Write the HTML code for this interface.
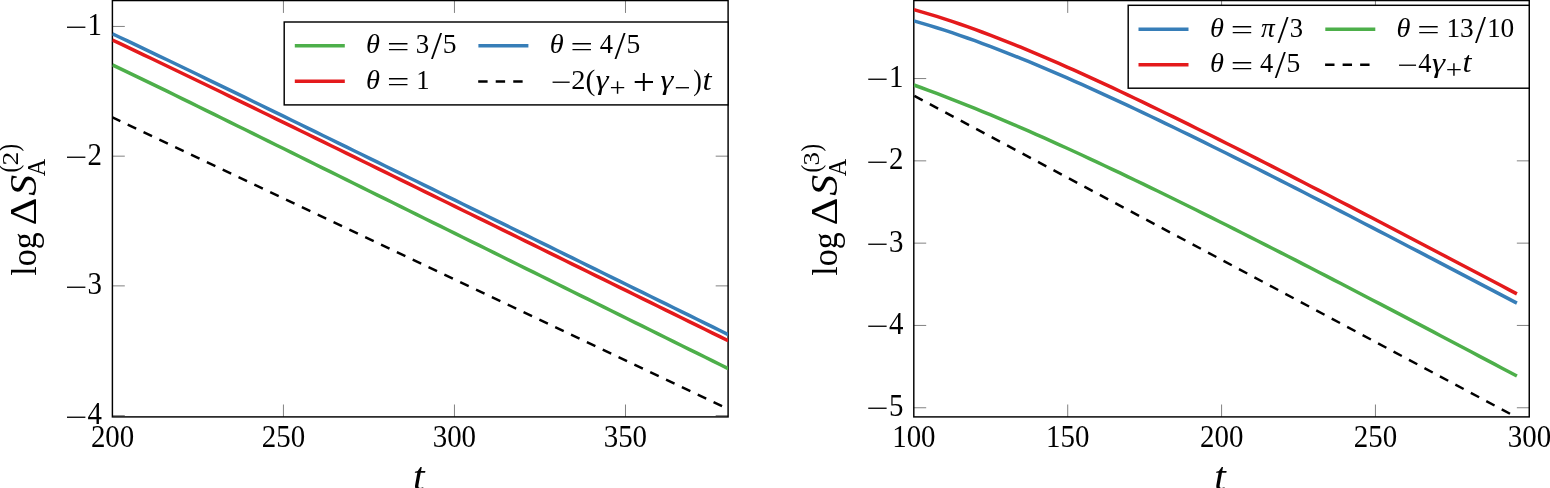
<!DOCTYPE html>
<html lang="en">
<head>
<meta charset="utf-8">
<title>log entanglement asymmetry decay</title>
<style>
html,body{margin:0;padding:0;background:#fff;}
body{width:1550px;height:488px;overflow:hidden;}
svg{display:block;}
svg text{font-family:"Liberation Serif",serif;fill:#000;}
</style>
</head>
<body>
<svg width="1550" height="488" viewBox="0 0 1550 488">
<rect x="0" y="0" width="1550" height="488" fill="#fff"/>
<line x1="283.43" y1="416.9" x2="283.43" y2="404.5" stroke="#2e2e2e" stroke-width="0.6"/>
<line x1="283.43" y1="0.55" x2="283.43" y2="12.95" stroke="#2e2e2e" stroke-width="0.6"/>
<line x1="454.46" y1="416.9" x2="454.46" y2="404.5" stroke="#2e2e2e" stroke-width="0.6"/>
<line x1="454.46" y1="0.55" x2="454.46" y2="12.95" stroke="#2e2e2e" stroke-width="0.6"/>
<line x1="625.49" y1="416.9" x2="625.49" y2="404.5" stroke="#2e2e2e" stroke-width="0.6"/>
<line x1="625.49" y1="0.55" x2="625.49" y2="12.95" stroke="#2e2e2e" stroke-width="0.6"/>
<line x1="112.4" y1="26.45" x2="124.8" y2="26.45" stroke="#2e2e2e" stroke-width="0.6"/>
<line x1="728.1" y1="26.45" x2="715.7" y2="26.45" stroke="#2e2e2e" stroke-width="0.6"/>
<line x1="112.4" y1="156.17" x2="124.8" y2="156.17" stroke="#2e2e2e" stroke-width="0.6"/>
<line x1="728.1" y1="156.17" x2="715.7" y2="156.17" stroke="#2e2e2e" stroke-width="0.6"/>
<line x1="112.4" y1="285.88" x2="124.8" y2="285.88" stroke="#2e2e2e" stroke-width="0.6"/>
<line x1="728.1" y1="285.88" x2="715.7" y2="285.88" stroke="#2e2e2e" stroke-width="0.6"/>
<line x1="112.4" y1="415.6" x2="124.8" y2="415.6" stroke="#2e2e2e" stroke-width="0.6"/>
<line x1="728.1" y1="415.6" x2="715.7" y2="415.6" stroke="#2e2e2e" stroke-width="0.6"/>
<clipPath id="c1"><rect x="112.4" y="0.55" width="615.7" height="416.35"/></clipPath>
<rect x="112.4" y="0.55" width="615.7" height="416.35" fill="none" stroke="#000" stroke-width="1.45"/>
<g clip-path="url(#c1)">
<path d="M112.4 64.9 L120.19 68.59 L127.99 72.31 L135.78 76.05 L143.58 79.82 L151.37 83.6 L159.17 87.39 L166.96 91.19 L174.76 95.01 L182.55 98.83 L190.35 102.65 L198.14 106.49 L205.94 110.32 L213.73 114.16 L221.53 118 L229.32 121.85 L237.12 125.7 L244.91 129.54 L252.71 133.39 L260.5 137.25 L268.3 141.1 L276.09 144.95 L283.89 148.8 L291.68 152.66 L299.48 156.51 L307.27 160.37 L315.07 164.22 L322.86 168.08 L330.66 171.93 L338.45 175.79 L346.25 179.64 L354.04 183.5 L361.84 187.35 L369.63 191.21 L377.43 195.06 L385.22 198.92 L393.02 202.78 L400.81 206.63 L408.61 210.49 L416.4 214.34 L424.2 218.2 L431.99 222.06 L439.79 225.91 L447.58 229.77 L455.38 233.62 L463.17 237.48 L470.97 241.34 L478.76 245.19 L486.56 249.05 L494.35 252.91 L502.15 256.76 L509.94 260.62 L517.74 264.47 L525.53 268.33 L533.33 272.19 L541.12 276.04 L548.92 279.9 L556.71 283.75 L564.51 287.61 L572.3 291.47 L580.1 295.32 L587.89 299.18 L595.69 303.04 L603.48 306.89 L611.28 310.75 L619.07 314.6 L626.87 318.46 L634.66 322.32 L642.46 326.17 L650.25 330.03 L658.05 333.88 L665.84 337.74 L673.64 341.6 L681.43 345.45 L689.23 349.31 L697.02 353.17 L704.82 357.02 L712.61 360.88 L720.41 364.73 L728.2 368.59" fill="none" stroke="#4daf4a" stroke-width="3.5"/>
<path d="M112.4 40.01 L120.19 43.69 L127.99 47.38 L135.78 51.09 L143.58 54.8 L151.37 58.52 L159.17 62.25 L166.96 65.98 L174.76 69.72 L182.55 73.47 L190.35 77.23 L198.14 80.99 L205.94 84.75 L213.73 88.52 L221.53 92.3 L229.32 96.07 L237.12 99.86 L244.91 103.64 L252.71 107.43 L260.5 111.22 L268.3 115.02 L276.09 118.82 L283.89 122.62 L291.68 126.42 L299.48 130.23 L307.27 134.03 L315.07 137.84 L322.86 141.65 L330.66 145.47 L338.45 149.28 L346.25 153.1 L354.04 156.91 L361.84 160.73 L369.63 164.55 L377.43 168.37 L385.22 172.19 L393.02 176.02 L400.81 179.84 L408.61 183.66 L416.4 187.49 L424.2 191.31 L431.99 195.14 L439.79 198.97 L447.58 202.79 L455.38 206.62 L463.17 210.45 L470.97 214.28 L478.76 218.11 L486.56 221.94 L494.35 225.77 L502.15 229.6 L509.94 233.43 L517.74 237.26 L525.53 241.1 L533.33 244.93 L541.12 248.76 L548.92 252.59 L556.71 256.43 L564.51 260.26 L572.3 264.09 L580.1 267.92 L587.89 271.76 L595.69 275.59 L603.48 279.43 L611.28 283.26 L619.07 287.09 L626.87 290.93 L634.66 294.76 L642.46 298.6 L650.25 302.43 L658.05 306.27 L665.84 310.1 L673.64 313.93 L681.43 317.77 L689.23 321.6 L697.02 325.44 L704.82 329.27 L712.61 333.11 L720.41 336.94 L728.2 340.78" fill="none" stroke="#e41a1c" stroke-width="3.5"/>
<path d="M112.4 33.81 L120.19 37.49 L127.99 41.18 L135.78 44.89 L143.58 48.6 L151.37 52.32 L159.17 56.05 L166.96 59.78 L174.76 63.52 L182.55 67.27 L190.35 71.03 L198.14 74.79 L205.94 78.55 L213.73 82.32 L221.53 86.1 L229.32 89.87 L237.12 93.66 L244.91 97.44 L252.71 101.23 L260.5 105.02 L268.3 108.82 L276.09 112.62 L283.89 116.42 L291.68 120.22 L299.48 124.03 L307.27 127.83 L315.07 131.64 L322.86 135.45 L330.66 139.27 L338.45 143.08 L346.25 146.9 L354.04 150.71 L361.84 154.53 L369.63 158.35 L377.43 162.17 L385.22 165.99 L393.02 169.82 L400.81 173.64 L408.61 177.46 L416.4 181.29 L424.2 185.11 L431.99 188.94 L439.79 192.77 L447.58 196.59 L455.38 200.42 L463.17 204.25 L470.97 208.08 L478.76 211.91 L486.56 215.74 L494.35 219.57 L502.15 223.4 L509.94 227.23 L517.74 231.06 L525.53 234.9 L533.33 238.73 L541.12 242.56 L548.92 246.39 L556.71 250.23 L564.51 254.06 L572.3 257.89 L580.1 261.72 L587.89 265.56 L595.69 269.39 L603.48 273.23 L611.28 277.06 L619.07 280.89 L626.87 284.73 L634.66 288.56 L642.46 292.4 L650.25 296.23 L658.05 300.07 L665.84 303.9 L673.64 307.73 L681.43 311.57 L689.23 315.4 L697.02 319.24 L704.82 323.07 L712.61 326.91 L720.41 330.74 L728.2 334.58" fill="none" stroke="#377eb8" stroke-width="3.5"/>
<line x1="112.4" y1="117.4" x2="728.2" y2="409.04" stroke="#000" stroke-width="2.45" stroke-dasharray="9.4 8.12" stroke-dashoffset="0.6"/>
</g>
<text><tspan x="64.93" y="36.21" font-size="27" textLength="22.3" lengthAdjust="spacingAndGlyphs">−</tspan><tspan x="87.6" y="34.8" font-size="31.6" textLength="14.46" lengthAdjust="spacingAndGlyphs">1</tspan></text>
<text><tspan x="64.93" y="165.96" font-size="27" textLength="22.3" lengthAdjust="spacingAndGlyphs">−</tspan><tspan x="87.6" y="164.55" font-size="31.6" textLength="14.46" lengthAdjust="spacingAndGlyphs">2</tspan></text>
<text><tspan x="64.93" y="295.76" font-size="27" textLength="22.3" lengthAdjust="spacingAndGlyphs">−</tspan><tspan x="87.6" y="294.35" font-size="31.6" textLength="14.46" lengthAdjust="spacingAndGlyphs">3</tspan></text>
<text><tspan x="64.93" y="425.56" font-size="27" textLength="22.3" lengthAdjust="spacingAndGlyphs">−</tspan><tspan x="87.6" y="424.15" font-size="31.6" textLength="14.46" lengthAdjust="spacingAndGlyphs">4</tspan></text>
<text x="90.91" y="447.1" font-size="31.6" textLength="43.37" lengthAdjust="spacingAndGlyphs">200</text>
<text x="261.81" y="447.1" font-size="31.6" textLength="43.37" lengthAdjust="spacingAndGlyphs">250</text>
<text x="432.71" y="447.1" font-size="31.6" textLength="43.37" lengthAdjust="spacingAndGlyphs">300</text>
<text x="603.71" y="447.1" font-size="31.6" textLength="43.37" lengthAdjust="spacingAndGlyphs">350</text>
<text transform="translate(36.1 275.4) rotate(-90)"><tspan x="-0.38" y="0" font-size="35" textLength="43.43" lengthAdjust="spacingAndGlyphs">log</tspan> <tspan x="49.84" y="0" font-size="37.87" textLength="27.99" lengthAdjust="spacingAndGlyphs">Δ</tspan><tspan x="79.71" y="0.03" font-size="38.4" font-style="italic" textLength="20.97" lengthAdjust="spacingAndGlyphs">S</tspan><tspan x="99.06" y="9" font-size="24.54" textLength="17.51" lengthAdjust="spacingAndGlyphs">A</tspan><tspan x="102.79" y="-17.7" font-size="26.6" textLength="7.65" lengthAdjust="spacingAndGlyphs">(</tspan><tspan x="109.98" y="-18.5" font-size="23.6" textLength="13.84" lengthAdjust="spacingAndGlyphs">2</tspan><tspan x="123.97" y="-17.7" font-size="26.6" textLength="7.52" lengthAdjust="spacingAndGlyphs">)</tspan></text>
<text><tspan x="413.07" y="489.6" font-size="41" font-style="italic" textLength="11.6" lengthAdjust="spacingAndGlyphs">t</tspan></text>
<rect x="284.2" y="22" width="443.9" height="82.9" fill="#fff" stroke="#000" stroke-width="1.45"/>
<line x1="294.8" y1="45.75" x2="344.8" y2="45.75" stroke="#4daf4a" stroke-width="3.5"/>
<line x1="294.8" y1="81.35" x2="344.8" y2="81.35" stroke="#e41a1c" stroke-width="3.5"/>
<line x1="478.4" y1="45.75" x2="528.4" y2="45.75" stroke="#377eb8" stroke-width="3.5"/>
<line x1="478.2" y1="81.4" x2="528.4" y2="81.4" stroke="#000" stroke-width="2.5" stroke-dasharray="9.4 8.12"/>
<text><tspan x="366.11" y="53.4" font-size="27.91" font-style="italic" textLength="13.95" lengthAdjust="spacingAndGlyphs">θ</tspan> <tspan x="386.92" y="55.6" font-size="27.1" textLength="22.42" lengthAdjust="spacingAndGlyphs">=</tspan> <tspan x="415.81" y="53.4" font-size="27.1" textLength="13.44" lengthAdjust="spacingAndGlyphs">3</tspan><tspan x="430.9" y="59.2" font-size="39.84" textLength="11.1" lengthAdjust="spacingAndGlyphs">/</tspan><tspan x="442.8" y="53.4" font-size="27.1" textLength="13.78" lengthAdjust="spacingAndGlyphs">5</tspan></text>
<text><tspan x="366.11" y="88.9" font-size="27.91" font-style="italic" textLength="13.95" lengthAdjust="spacingAndGlyphs">θ</tspan> <tspan x="386.92" y="91.1" font-size="27.1" textLength="22.42" lengthAdjust="spacingAndGlyphs">=</tspan> <tspan x="416.25" y="88.9" font-size="27.1" textLength="13.35" lengthAdjust="spacingAndGlyphs">1</tspan></text>
<text><tspan x="549.81" y="53.4" font-size="27.91" font-style="italic" textLength="13.95" lengthAdjust="spacingAndGlyphs">θ</tspan> <tspan x="570.62" y="55.6" font-size="27.1" textLength="22.42" lengthAdjust="spacingAndGlyphs">=</tspan> <tspan x="599.78" y="53.4" font-size="27.1" textLength="13.23" lengthAdjust="spacingAndGlyphs">4</tspan><tspan x="614.6" y="59.2" font-size="39.84" textLength="11.1" lengthAdjust="spacingAndGlyphs">/</tspan><tspan x="626.5" y="53.4" font-size="27.1" textLength="13.78" lengthAdjust="spacingAndGlyphs">5</tspan></text>
<text><tspan x="550.67" y="91.2" font-size="27.1" textLength="20.72" lengthAdjust="spacingAndGlyphs">−</tspan><tspan x="571.25" y="88.9" font-size="27.1" textLength="14.22" lengthAdjust="spacingAndGlyphs">2</tspan><tspan x="585.5" y="89.5" font-size="29.4" textLength="9.85" lengthAdjust="spacingAndGlyphs">(</tspan><tspan x="595.71" y="88.8" font-size="28.18" font-style="italic" textLength="12.87" lengthAdjust="spacingAndGlyphs">γ</tspan><tspan x="609.58" y="96.63" font-size="27.5" textLength="16.12" lengthAdjust="spacingAndGlyphs">+</tspan> <tspan x="632.74" y="94.9" font-size="37.94" textLength="22.18" lengthAdjust="spacingAndGlyphs">+</tspan> <tspan x="660.61" y="88.8" font-size="28.18" font-style="italic" textLength="12.87" lengthAdjust="spacingAndGlyphs">γ</tspan><tspan x="674.59" y="96.63" font-size="27.5" textLength="16" lengthAdjust="spacingAndGlyphs">−</tspan><tspan x="693.17" y="89.5" font-size="29.4" textLength="8.56" lengthAdjust="spacingAndGlyphs">)</tspan><tspan x="702.46" y="89.5" font-size="30.35" font-style="italic" textLength="9.08" lengthAdjust="spacingAndGlyphs">t</tspan></text>
<line x1="1067.71" y1="416.9" x2="1067.71" y2="404.5" stroke="#2e2e2e" stroke-width="0.6"/>
<line x1="1067.71" y1="0.55" x2="1067.71" y2="12.95" stroke="#2e2e2e" stroke-width="0.6"/>
<line x1="1221.58" y1="416.9" x2="1221.58" y2="404.5" stroke="#2e2e2e" stroke-width="0.6"/>
<line x1="1221.58" y1="0.55" x2="1221.58" y2="12.95" stroke="#2e2e2e" stroke-width="0.6"/>
<line x1="1375.44" y1="416.9" x2="1375.44" y2="404.5" stroke="#2e2e2e" stroke-width="0.6"/>
<line x1="1375.44" y1="0.55" x2="1375.44" y2="12.95" stroke="#2e2e2e" stroke-width="0.6"/>
<line x1="913.8" y1="78.55" x2="926.2" y2="78.55" stroke="#2e2e2e" stroke-width="0.6"/>
<line x1="1529.25" y1="78.55" x2="1516.85" y2="78.55" stroke="#2e2e2e" stroke-width="0.6"/>
<line x1="913.8" y1="160.85" x2="926.2" y2="160.85" stroke="#2e2e2e" stroke-width="0.6"/>
<line x1="1529.25" y1="160.85" x2="1516.85" y2="160.85" stroke="#2e2e2e" stroke-width="0.6"/>
<line x1="913.8" y1="243.15" x2="926.2" y2="243.15" stroke="#2e2e2e" stroke-width="0.6"/>
<line x1="1529.25" y1="243.15" x2="1516.85" y2="243.15" stroke="#2e2e2e" stroke-width="0.6"/>
<line x1="913.8" y1="325.45" x2="926.2" y2="325.45" stroke="#2e2e2e" stroke-width="0.6"/>
<line x1="1529.25" y1="325.45" x2="1516.85" y2="325.45" stroke="#2e2e2e" stroke-width="0.6"/>
<line x1="913.8" y1="407.75" x2="926.2" y2="407.75" stroke="#2e2e2e" stroke-width="0.6"/>
<line x1="1529.25" y1="407.75" x2="1516.85" y2="407.75" stroke="#2e2e2e" stroke-width="0.6"/>
<clipPath id="c2"><rect x="913.8" y="0.55" width="615.45" height="416.35"/></clipPath>
<rect x="913.8" y="0.55" width="615.45" height="416.35" fill="none" stroke="#000" stroke-width="1.45"/>
<g clip-path="url(#c2)">
<path d="M913.85 84.99 L921.48 87.75 L929.12 90.56 L936.75 93.41 L944.38 96.32 L952.02 99.27 L959.65 102.27 L967.28 105.31 L974.92 108.39 L982.55 111.51 L990.19 114.66 L997.82 117.86 L1005.45 121.09 L1013.09 124.35 L1020.72 127.64 L1028.35 130.97 L1035.99 134.32 L1043.62 137.71 L1051.25 141.12 L1058.89 144.56 L1066.52 148.03 L1074.15 151.52 L1081.79 155.03 L1089.42 158.57 L1097.06 162.13 L1104.69 165.71 L1112.32 169.31 L1119.96 172.93 L1127.59 176.56 L1135.22 180.22 L1142.86 183.9 L1150.49 187.59 L1158.12 191.29 L1165.76 195.02 L1173.39 198.75 L1181.02 202.51 L1188.66 206.27 L1196.29 210.05 L1203.92 213.84 L1211.56 217.65 L1219.19 221.46 L1226.83 225.29 L1234.46 229.13 L1242.09 232.98 L1249.73 236.84 L1257.36 240.7 L1264.99 244.58 L1272.63 248.47 L1280.26 252.37 L1287.89 256.27 L1295.53 260.18 L1303.16 264.1 L1310.79 268.03 L1318.43 271.96 L1326.06 275.9 L1333.69 279.85 L1341.33 283.81 L1348.96 287.77 L1356.6 291.73 L1364.23 295.7 L1371.86 299.68 L1379.5 303.66 L1387.13 307.65 L1394.76 311.64 L1402.4 315.64 L1410.03 319.64 L1417.66 323.65 L1425.3 327.66 L1432.93 331.67 L1440.56 335.69 L1448.2 339.71 L1455.83 343.74 L1463.47 347.77 L1471.1 351.8 L1478.73 355.83 L1486.37 359.87 L1494 363.91 L1501.63 367.96 L1509.27 372 L1516.9 376.05" fill="none" stroke="#4daf4a" stroke-width="3.5"/>
<path d="M913.85 20.9 L921.48 23.09 L929.12 25.37 L936.75 27.74 L944.38 30.19 L952.02 32.71 L959.65 35.31 L967.28 37.98 L974.92 40.72 L982.55 43.52 L990.19 46.38 L997.82 49.29 L1005.45 52.26 L1013.09 55.29 L1020.72 58.36 L1028.35 61.48 L1035.99 64.65 L1043.62 67.86 L1051.25 71.11 L1058.89 74.39 L1066.52 77.72 L1074.15 81.08 L1081.79 84.47 L1089.42 87.89 L1097.06 91.35 L1104.69 94.83 L1112.32 98.34 L1119.96 101.88 L1127.59 105.44 L1135.22 109.03 L1142.86 112.63 L1150.49 116.26 L1158.12 119.91 L1165.76 123.58 L1173.39 127.27 L1181.02 130.97 L1188.66 134.69 L1196.29 138.43 L1203.92 142.18 L1211.56 145.95 L1219.19 149.73 L1226.83 153.52 L1234.46 157.33 L1242.09 161.14 L1249.73 164.97 L1257.36 168.81 L1264.99 172.66 L1272.63 176.52 L1280.26 180.39 L1287.89 184.26 L1295.53 188.15 L1303.16 192.04 L1310.79 195.94 L1318.43 199.85 L1326.06 203.77 L1333.69 207.69 L1341.33 211.61 L1348.96 215.55 L1356.6 219.49 L1364.23 223.43 L1371.86 227.38 L1379.5 231.33 L1387.13 235.29 L1394.76 239.26 L1402.4 243.22 L1410.03 247.19 L1417.66 251.17 L1425.3 255.15 L1432.93 259.13 L1440.56 263.12 L1448.2 267.1 L1455.83 271.09 L1463.47 275.09 L1471.1 279.09 L1478.73 283.08 L1486.37 287.09 L1494 291.09 L1501.63 295.1 L1509.27 299.1 L1516.9 303.11" fill="none" stroke="#377eb8" stroke-width="3.5"/>
<path d="M913.85 9.69 L921.48 11.84 L929.12 14.1 L936.75 16.45 L944.38 18.88 L952.02 21.4 L959.65 24 L967.28 26.68 L974.92 29.43 L982.55 32.24 L990.19 35.12 L997.82 38.06 L1005.45 41.06 L1013.09 44.11 L1020.72 47.22 L1028.35 50.37 L1035.99 53.57 L1043.62 56.82 L1051.25 60.11 L1058.89 63.43 L1066.52 66.8 L1074.15 70.2 L1081.79 73.63 L1089.42 77.1 L1097.06 80.59 L1104.69 84.12 L1112.32 87.67 L1119.96 91.25 L1127.59 94.86 L1135.22 98.48 L1142.86 102.13 L1150.49 105.8 L1158.12 109.49 L1165.76 113.2 L1173.39 116.93 L1181.02 120.67 L1188.66 124.43 L1196.29 128.2 L1203.92 131.99 L1211.56 135.8 L1219.19 139.61 L1226.83 143.44 L1234.46 147.28 L1242.09 151.13 L1249.73 154.99 L1257.36 158.86 L1264.99 162.74 L1272.63 166.63 L1280.26 170.53 L1287.89 174.43 L1295.53 178.35 L1303.16 182.27 L1310.79 186.19 L1318.43 190.13 L1326.06 194.07 L1333.69 198.01 L1341.33 201.96 L1348.96 205.92 L1356.6 209.88 L1364.23 213.85 L1371.86 217.82 L1379.5 221.79 L1387.13 225.77 L1394.76 229.75 L1402.4 233.74 L1410.03 237.73 L1417.66 241.72 L1425.3 245.72 L1432.93 249.72 L1440.56 253.72 L1448.2 257.72 L1455.83 261.73 L1463.47 265.74 L1471.1 269.75 L1478.73 273.76 L1486.37 277.78 L1494 281.79 L1501.63 285.81 L1509.27 289.83 L1516.9 293.86" fill="none" stroke="#e41a1c" stroke-width="3.5"/>
<line x1="913.85" y1="95.6" x2="1516.9" y2="417.45" stroke="#000" stroke-width="2.45" stroke-dasharray="9.4 8.12" stroke-dashoffset="-0.6"/>
</g>
<text><tspan x="866.33" y="88.36" font-size="27" textLength="22.3" lengthAdjust="spacingAndGlyphs">−</tspan><tspan x="889" y="86.95" font-size="31.6" textLength="14.46" lengthAdjust="spacingAndGlyphs">1</tspan></text>
<text><tspan x="866.33" y="170.66" font-size="27" textLength="22.3" lengthAdjust="spacingAndGlyphs">−</tspan><tspan x="889" y="169.25" font-size="31.6" textLength="14.46" lengthAdjust="spacingAndGlyphs">2</tspan></text>
<text><tspan x="866.33" y="252.91" font-size="27" textLength="22.3" lengthAdjust="spacingAndGlyphs">−</tspan><tspan x="889" y="251.5" font-size="31.6" textLength="14.46" lengthAdjust="spacingAndGlyphs">3</tspan></text>
<text><tspan x="866.33" y="335.16" font-size="27" textLength="22.3" lengthAdjust="spacingAndGlyphs">−</tspan><tspan x="889" y="333.75" font-size="31.6" textLength="14.46" lengthAdjust="spacingAndGlyphs">4</tspan></text>
<text><tspan x="866.33" y="417.46" font-size="27" textLength="22.3" lengthAdjust="spacingAndGlyphs">−</tspan><tspan x="889" y="416.05" font-size="31.6" textLength="14.46" lengthAdjust="spacingAndGlyphs">5</tspan></text>
<text x="892.21" y="447.1" font-size="31.6" textLength="43.37" lengthAdjust="spacingAndGlyphs">100</text>
<text x="1046.11" y="447.1" font-size="31.6" textLength="43.37" lengthAdjust="spacingAndGlyphs">150</text>
<text x="1200.01" y="447.1" font-size="31.6" textLength="43.37" lengthAdjust="spacingAndGlyphs">200</text>
<text x="1353.81" y="447.1" font-size="31.6" textLength="43.37" lengthAdjust="spacingAndGlyphs">250</text>
<text x="1507.81" y="447.1" font-size="31.6" textLength="43.37" lengthAdjust="spacingAndGlyphs">300</text>
<text transform="translate(837.4 275.4) rotate(-90)"><tspan x="-0.38" y="0" font-size="35" textLength="43.43" lengthAdjust="spacingAndGlyphs">log</tspan> <tspan x="49.84" y="0" font-size="37.87" textLength="27.99" lengthAdjust="spacingAndGlyphs">Δ</tspan><tspan x="79.71" y="0.03" font-size="38.4" font-style="italic" textLength="20.97" lengthAdjust="spacingAndGlyphs">S</tspan><tspan x="99.06" y="9" font-size="24.54" textLength="17.51" lengthAdjust="spacingAndGlyphs">A</tspan><tspan x="102.79" y="-17.7" font-size="26.6" textLength="7.65" lengthAdjust="spacingAndGlyphs">(</tspan><tspan x="109.91" y="-18.5" font-size="23.6" textLength="13.44" lengthAdjust="spacingAndGlyphs">3</tspan><tspan x="123.97" y="-17.7" font-size="26.6" textLength="7.52" lengthAdjust="spacingAndGlyphs">)</tspan></text>
<text><tspan x="1214.27" y="489.6" font-size="41" font-style="italic" textLength="11.6" lengthAdjust="spacingAndGlyphs">t</tspan></text>
<rect x="1128.2" y="5.3" width="401.05" height="82.9" fill="#fff" stroke="#000" stroke-width="1.45"/>
<line x1="1138.5" y1="29.15" x2="1188.5" y2="29.15" stroke="#377eb8" stroke-width="3.5"/>
<line x1="1138.5" y1="64.8" x2="1188.5" y2="64.8" stroke="#e41a1c" stroke-width="3.5"/>
<line x1="1325.3" y1="29.15" x2="1375.3" y2="29.15" stroke="#4daf4a" stroke-width="3.5"/>
<line x1="1325.1" y1="64.8" x2="1375.3" y2="64.8" stroke="#000" stroke-width="2.5" stroke-dasharray="9.4 8.12"/>
<text><tspan x="1209.91" y="37" font-size="27.91" font-style="italic" textLength="13.95" lengthAdjust="spacingAndGlyphs">θ</tspan> <tspan x="1230.72" y="39.2" font-size="27.1" textLength="22.42" lengthAdjust="spacingAndGlyphs">=</tspan> <tspan x="1261.05" y="37" font-size="27.1" font-style="italic" textLength="13.72" lengthAdjust="spacingAndGlyphs">π</tspan><tspan x="1277.5" y="42.8" font-size="39.84" textLength="11.1" lengthAdjust="spacingAndGlyphs">/</tspan><tspan x="1289.73" y="37" font-size="27.1" textLength="13.31" lengthAdjust="spacingAndGlyphs">3</tspan></text>
<text><tspan x="1209.91" y="72.3" font-size="27.91" font-style="italic" textLength="13.95" lengthAdjust="spacingAndGlyphs">θ</tspan> <tspan x="1230.72" y="74.5" font-size="27.1" textLength="22.42" lengthAdjust="spacingAndGlyphs">=</tspan> <tspan x="1259.88" y="72.3" font-size="27.1" textLength="13.23" lengthAdjust="spacingAndGlyphs">4</tspan><tspan x="1274.7" y="78.1" font-size="39.84" textLength="11.1" lengthAdjust="spacingAndGlyphs">/</tspan><tspan x="1286.6" y="72.3" font-size="27.1" textLength="13.78" lengthAdjust="spacingAndGlyphs">5</tspan></text>
<text><tspan x="1396.41" y="37" font-size="27.91" font-style="italic" textLength="13.95" lengthAdjust="spacingAndGlyphs">θ</tspan> <tspan x="1417.22" y="39.2" font-size="27.1" textLength="22.42" lengthAdjust="spacingAndGlyphs">=</tspan> <tspan x="1446.6" y="37" font-size="27.1" textLength="13.63" lengthAdjust="spacingAndGlyphs">1</tspan><tspan x="1459.99" y="37" font-size="27.1" textLength="13.68" lengthAdjust="spacingAndGlyphs">3</tspan><tspan x="1475" y="42.8" font-size="39.84" textLength="11" lengthAdjust="spacingAndGlyphs">/</tspan><tspan x="1487.25" y="37" font-size="27.1" textLength="13.35" lengthAdjust="spacingAndGlyphs">1</tspan><tspan x="1500.56" y="37" font-size="27.1" textLength="13.68" lengthAdjust="spacingAndGlyphs">0</tspan></text>
<text><tspan x="1397.18" y="73.9" font-size="27.1" textLength="20.6" lengthAdjust="spacingAndGlyphs">−</tspan><tspan x="1418.18" y="72.3" font-size="27.1" textLength="13.23" lengthAdjust="spacingAndGlyphs">4</tspan><tspan x="1432" y="72.2" font-size="28.18" font-style="italic" textLength="13.07" lengthAdjust="spacingAndGlyphs">γ</tspan><tspan x="1445.66" y="78.83" font-size="27.5" textLength="16.36" lengthAdjust="spacingAndGlyphs">+</tspan><tspan x="1462.58" y="72" font-size="30.35" font-style="italic" textLength="8.97" lengthAdjust="spacingAndGlyphs">t</tspan></text>
</svg>
</body>
</html>
